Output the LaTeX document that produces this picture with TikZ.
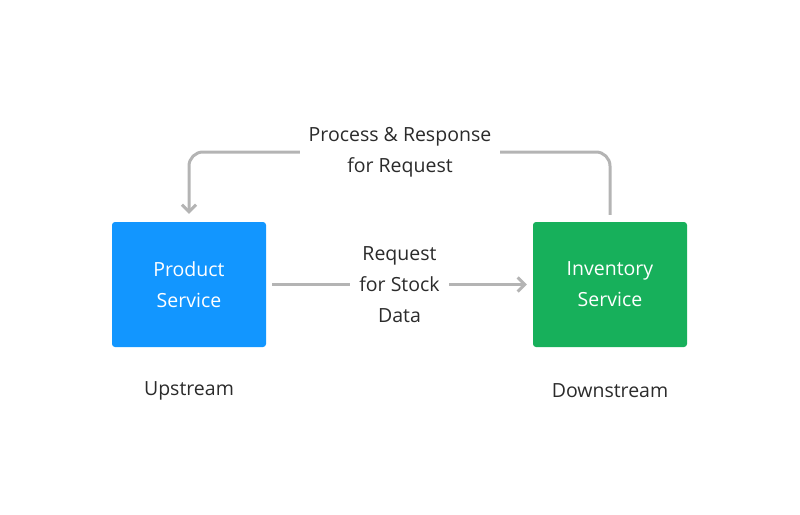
\documentclass[tikz,border=0pt]{standalone}
\usepackage{fontspec}
\setmainfont{Open Sans}
\usetikzlibrary{positioning, arrows.meta}
\definecolor{prodblue}{HTML}{1296FF}
\definecolor{invgreen}{HTML}{17B05B}
\definecolor{linkgray}{HTML}{B4B4B4}
\definecolor{txtdark}{HTML}{2B2B2B}
\tikzset{
	service/.style={rounded corners=3pt, minimum width=154pt, minimum height=125pt, text=white, align=center, font=\fontsize{19.5}{31}\selectfont},
	flow/.style={draw=linkgray, line width=3pt, -{Straight Barb[length=7pt, width=14pt, line width=3pt]}},
	lbl/.style={fill=white, text=txtdark, align=center, inner xsep=9pt, inner ysep=4pt, font=\fontsize{19.5}{31}\selectfont},
	tag/.style={text=txtdark, font=\fontsize{19.5}{23}\selectfont}
}
\begin{document}
\begin{tikzpicture}[x=1pt, y=-1pt]
\useasboundingbox (0,0) rectangle (800,514);
\node[service, fill=prodblue] (prod) at (189,284.5) {Product\\Service};
\node[service, fill=invgreen] (inv) at (610,284.5) {Inventory\\Service};
\node[tag] (up) at (189,391) {Upstream};
\node[tag] (down) at (610,391) {Downstream};
% request
\draw[flow] ([xshift=6pt]prod.east) -- ([xshift=-6pt]inv.west) node[lbl, midway] (req) {Request\\for Stock\\Data};
% response
\coordinate (r1) at (610,152);
\coordinate (r2) at (189,152);
\draw[flow, rounded corners=14pt] ([yshift=7pt]inv.north) -- (r1) -- (r2) -- ([yshift=8pt]prod.north);
\node[lbl] (resp) at (400,152) {Process \& Response\\for Request};
\end{tikzpicture}
\end{document}
